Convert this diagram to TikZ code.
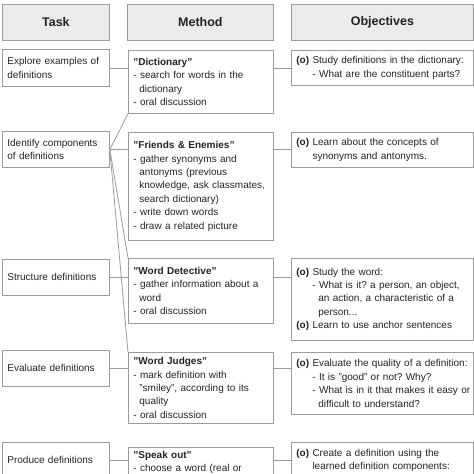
\documentclass[tikz,border=0pt]{standalone}
\usepackage{fontspec}
\setmainfont{Liberation Sans}
\definecolor{linegray}{RGB}{155,155,155}
\definecolor{headgray}{RGB}{235,235,235}
\definecolor{textgray}{RGB}{35,35,35}
\newcommand{\objmark}{\textbf{(o)} }
\newcommand{\dq}{\symbol{34}}
\newcommand{\dashind}{\hspace*{16pt}}
\newcommand{\contind}{\hspace*{6pt}}

\begin{document}
\frenchspacing
\begin{tikzpicture}[
        x=1pt, y=-1pt,
        head/.style={draw=linegray, fill=headgray, anchor=north west, minimum height=36pt, inner sep=0pt, text=textgray, font=\fontsize{12.5}{15}\selectfont\bfseries},
        cell/.style={draw=linegray, line width=0.8pt, anchor=north west, inner xsep=5pt, inner ysep=0pt, align=left, text=textgray, font=\fontsize{10}{13.4}\selectfont},
        task/.style={cell, text width=97pt},
        method/.style={cell, text width=135pt},
        objective/.style={cell, text width=172pt},
        link/.style={draw=linegray, line width=0.8pt}
    ]
        \clip (0,0) rectangle (474,474);

        % Headers
        \node[head, line width=0.8pt, minimum width=107pt] (taskhead) at (2,4) {Task};
        \node[head, line width=0.8pt, minimum width=146pt] (methodhead) at (127,4) {Method};
        \node[head, line width=0.8pt, minimum width=182pt] (objhead) at (291,4) {Objectives};

        % Tasks
        \node[task, minimum height=37pt] (explore) at (2,49) {Explore examples of\\definitions};
        \node[task, minimum height=36pt] (identify) at (2,131) {Identify components\\of definitions};
        \node[task, minimum height=36pt] (structure) at (2,259) {Structure definitions};
        \node[task, minimum height=36pt] (evaluate) at (2,350) {Evaluate definitions};
        \node[task, minimum height=36pt] (produce) at (2,442) {Produce definitions};

        % Methods
        \node[method, minimum height=63pt] (dictionary) at (128,50) {\textbf{\dq Dictionary\dq}\\- search for words in the\\\contind dictionary\\- oral discussion};
        \node[method, minimum height=108pt] (friends) at (128,132) {\textbf{\dq Friends \& Enemies\dq}\\- gather synonyms and\\\contind antonyms (previous\\\contind knowledge, ask classmates,\\\contind search dictionary)\\- write down words\\- draw a related picture};
        \node[method, minimum height=65pt] (detective) at (128,258) {\textbf{\dq Word Detective\dq}\\- gather information about a\\\contind word\\- oral discussion};
        \node[method, minimum height=71pt] (judges) at (128,352) {\textbf{\dq Word Judges\dq}\\- mark definition with\\\contind \dq smiley\dq, according to its\\\contind quality\\- oral discussion};
        \node[method, minimum height=30pt] (speakout) at (128,447) {\textbf{\dq Speak out\dq}\\- choose a word (real or};

        % Objectives
        \node[objective, minimum height=35pt] (studydict) at (291,50) {\objmark Study definitions in the dictionary:\\\dashind - What are the constituent parts?};
        \node[objective, minimum height=35pt] (concepts) at (291,132) {\objmark Learn about the concepts of\\\phantom{\objmark}synonyms and antonyms.};
        \node[objective, minimum height=82pt] (studyword) at (291,258) {\objmark Study the word:\\\dashind - What is it? a person, an object,\\\dashind\contind an action, a characteristic of a\\\dashind\contind person...\\\objmark Learn to use anchor sentences};
        \node[objective, minimum height=62pt] (quality) at (291,352) {\objmark Evaluate the quality of a definition:\\\dashind - It is \dq good\dq{} or not? Why?\\\mbox{\dashind - What is in it that makes it easy or}\\\dashind\contind difficult to understand?};
        \node[objective, minimum height=36pt] (create) at (291,442) {\objmark Create a definition using the\\\phantom{\objmark}learned definition components:};

        % Links task -> method -> objective
        \draw[link] (explore.east) -- (explore.east -| dictionary.west);
        \draw[link] (explore.east -| dictionary.east) -- (explore.east -| studydict.west);
        \draw[link] (identify.east) -- (identify.east -| friends.west);
        \draw[link] (identify.east -| friends.east) -- (identify.east -| concepts.west);
        \draw[link] (structure.east) -- (structure.east -| detective.west);
        \draw[link] (structure.east -| detective.east) -- (structure.east -| studyword.west);
        \draw[link] (evaluate.east) -- (evaluate.east -| judges.west);
        \draw[link] (evaluate.east -| judges.east) -- (evaluate.east -| quality.west);
        \draw[link] (produce.east) -- (produce.east -| speakout.west);
        \draw[link] (produce.east -| speakout.east) -- (produce.east -| create.west);

        % Components used by the other methods
        \draw[link] (identify.east) -- (dictionary.south west);
        \draw[link] (identify.east) -- (detective.north west);
        \draw[link] (identify.east) -- (judges.north west);

    \end{tikzpicture}
\end{document}
